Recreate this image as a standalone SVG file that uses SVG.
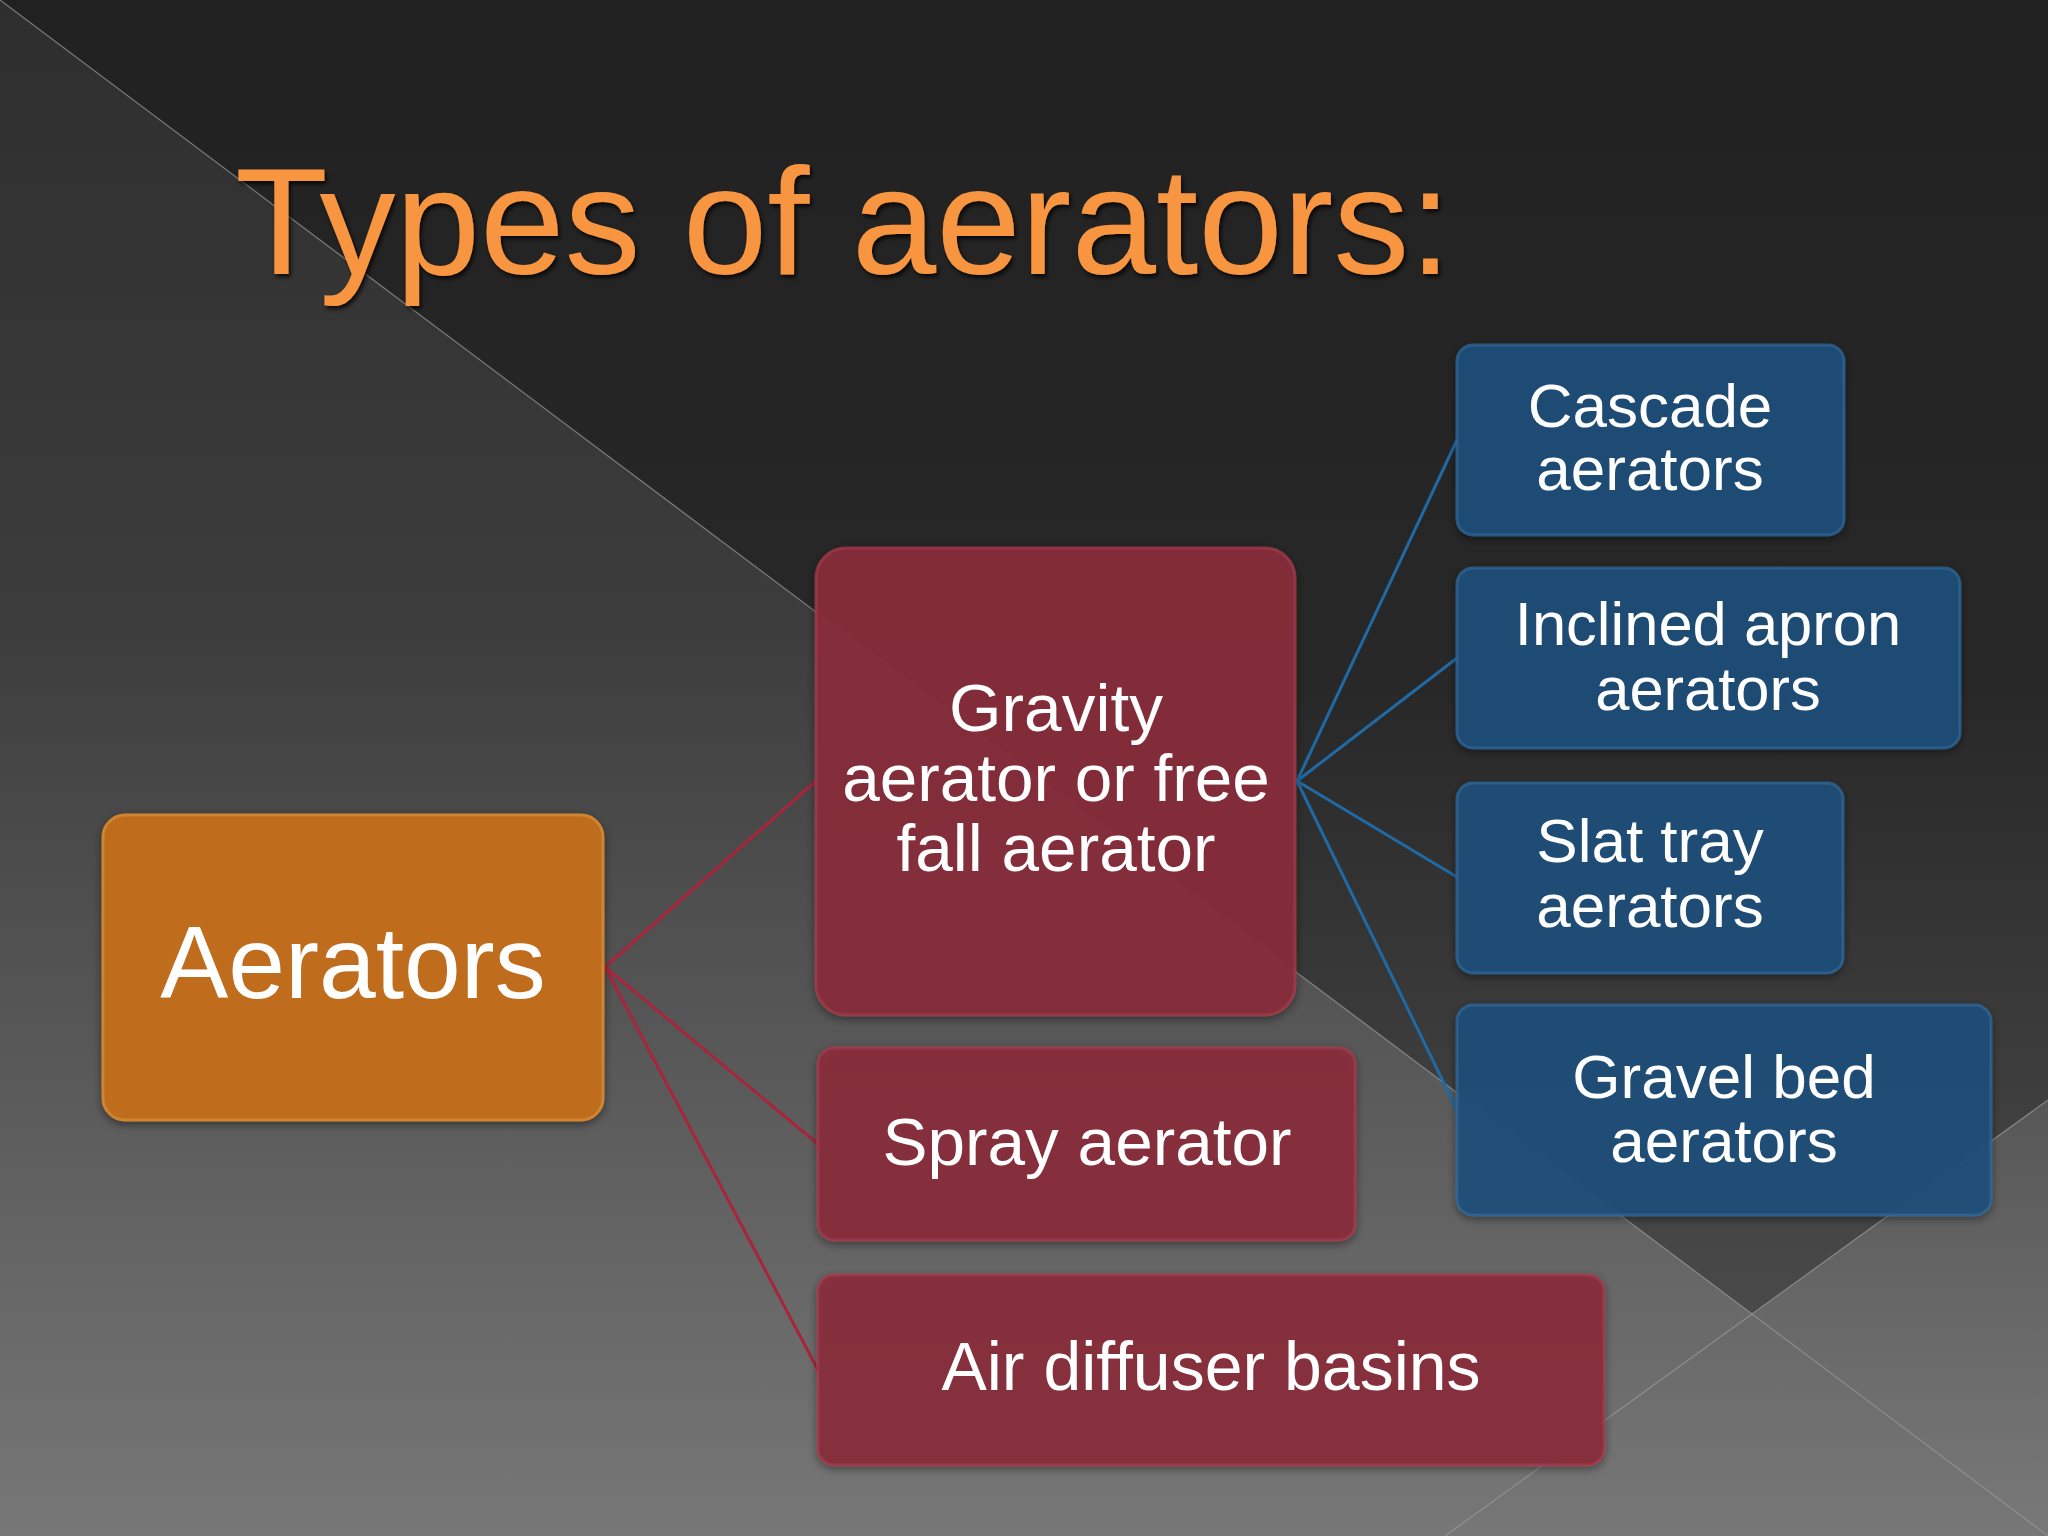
<svg xmlns="http://www.w3.org/2000/svg" width="2048" height="1536" viewBox="0 0 2048 1536">
  <defs>
    <linearGradient id="bgTop" x1="0" y1="0" x2="0" y2="1536" gradientUnits="userSpaceOnUse">
      <stop offset="0" stop-color="#212121"/>
      <stop offset="0.45" stop-color="#282828"/>
      <stop offset="1" stop-color="#565656"/>
    </linearGradient>
    <linearGradient id="bgLow" x1="0" y1="0" x2="0" y2="1536" gradientUnits="userSpaceOnUse">
      <stop offset="0" stop-color="#2e2e2e"/>
      <stop offset="0.4" stop-color="#3c3c3c"/>
      <stop offset="1" stop-color="#777777"/>
    </linearGradient>
    <linearGradient id="bgCorner" x1="0" y1="1100" x2="0" y2="1536" gradientUnits="userSpaceOnUse">
      <stop offset="0" stop-color="#575757"/>
      <stop offset="1" stop-color="#797979"/>
    </linearGradient>
    <filter id="shadow" x="-10%" y="-10%" width="120%" height="130%">
      <feDropShadow dx="0" dy="3" stdDeviation="4" flood-color="#000" flood-opacity="0.45"/>
    </filter>
    <filter id="titleShadow" x="-5%" y="-10%" width="110%" height="130%">
      <feDropShadow dx="2" dy="3" stdDeviation="2" flood-color="#000" flood-opacity="0.8"/>
    </filter>
    <style>
      .lbl { font-family: "Liberation Sans", Arial, sans-serif; fill: #ffffff; text-anchor: middle; }
      .orange { fill: #bf6c1d; stroke: #cf8430; stroke-width: 3; }
      .red { fill: #8b2e3c; fill-opacity: 0.9; stroke: #a83a4b; stroke-width: 3; stroke-opacity: 0.7; }
      .blue { fill: #1e507a; fill-opacity: 0.9; stroke: #2d6a9c; stroke-width: 3; stroke-opacity: 0.7; }
      .redline { stroke: #a8253c; stroke-width: 3; fill: none; }
      .blueline { stroke: #1f6aa5; stroke-width: 3; fill: none; }
      .deco { stroke: #9a9a9a; stroke-width: 1.3; stroke-opacity: 0.7; fill: none; }
    </style>
  </defs>

  <!-- background -->
  <rect x="0" y="0" width="2048" height="1536" fill="url(#bgTop)"/>
  <polygon points="0,0 2048,1536 0,1536" fill="url(#bgLow)"/>
  <polygon points="1752,1314 2048,1100 2048,1536" fill="url(#bgCorner)"/>
  <line class="deco" x1="0" y1="0" x2="2048" y2="1536"/>
  <line class="deco" x1="1445" y1="1536" x2="2048" y2="1100"/>

  <!-- title -->
  <text id="title" x="235" y="274" font-family="'Liberation Sans', Arial, sans-serif" font-size="152" fill="#f7953f" filter="url(#titleShadow)">Types of aerators:</text>

  <!-- connectors -->
  <g id="connectors">
    <line class="redline" x1="605" y1="967" x2="816" y2="781"/>
    <line class="redline" x1="605" y1="967" x2="818" y2="1144"/>
    <line class="redline" x1="605" y1="967" x2="818" y2="1370"/>
    <line class="blueline" x1="1297" y1="781" x2="1457" y2="440"/>
    <line class="blueline" x1="1297" y1="781" x2="1457" y2="658"/>
    <line class="blueline" x1="1297" y1="781" x2="1457" y2="877"/>
    <line class="blueline" x1="1297" y1="781" x2="1457" y2="1110"/>
  </g>

  <!-- nodes -->
  <g id="node-aerators">
    <rect class="orange" x="103" y="815" width="500" height="305" rx="22" filter="url(#shadow)"/>
    <text class="lbl" x="353" y="998" font-size="102">Aerators</text>
  </g>

  <g id="node-gravity">
    <rect class="red" x="816" y="548" width="479" height="467" rx="30" filter="url(#shadow)"/>
    <text class="lbl" x="1056" y="731" font-size="67.5">Gravity</text>
    <text class="lbl" x="1056" y="801" font-size="67.5">aerator or free</text>
    <text class="lbl" x="1056" y="871" font-size="67.5">fall aerator</text>
  </g>

  <g id="node-spray">
    <rect class="red" x="818" y="1048" width="537" height="192" rx="16" filter="url(#shadow)"/>
    <text class="lbl" x="1087" y="1165" font-size="67.5">Spray aerator</text>
  </g>

  <g id="node-air">
    <rect class="red" x="818" y="1275" width="786" height="190" rx="16" filter="url(#shadow)"/>
    <text class="lbl" x="1211" y="1390" font-size="68">Air diffuser basins</text>
  </g>

  <g id="node-cascade">
    <rect class="blue" x="1457" y="345" width="387" height="190" rx="16" filter="url(#shadow)"/>
    <text class="lbl" x="1650" y="427" font-size="62">Cascade</text>
    <text class="lbl" x="1650" y="490" font-size="62">aerators</text>
  </g>

  <g id="node-inclined">
    <rect class="blue" x="1457" y="568" width="503" height="180" rx="16" filter="url(#shadow)"/>
    <text class="lbl" x="1708" y="645" font-size="61.5">Inclined apron</text>
    <text class="lbl" x="1708" y="710" font-size="61.5">aerators</text>
  </g>

  <g id="node-slat">
    <rect class="blue" x="1457" y="783" width="386" height="190" rx="16" filter="url(#shadow)"/>
    <text class="lbl" x="1650" y="862" font-size="62">Slat tray</text>
    <text class="lbl" x="1650" y="927" font-size="62">aerators</text>
  </g>

  <g id="node-gravel">
    <rect class="blue" x="1457" y="1005" width="534" height="210" rx="16" filter="url(#shadow)"/>
    <text class="lbl" x="1724" y="1098" font-size="62">Gravel bed</text>
    <text class="lbl" x="1724" y="1162" font-size="62">aerators</text>
  </g>
</svg>
